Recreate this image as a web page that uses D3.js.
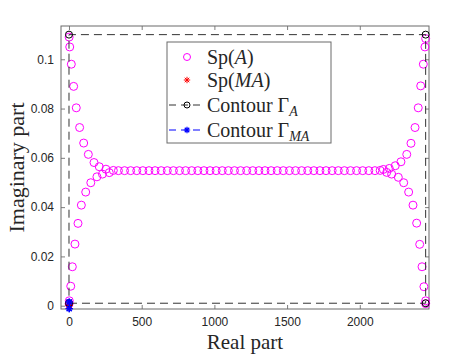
<!DOCTYPE html>
<html>
<head>
<meta charset="utf-8">
<script src="https://cdn.jsdelivr.net/npm/d3@7"></script>
<style>
  body { margin: 0; background: #fff; }
  svg { display: block; }
  .tick text { font-family: "Liberation Sans", Arial, sans-serif; font-size: 12px; fill: #262626; }
  .lbl { font-family: "Liberation Serif", "Times New Roman", serif; fill: #262626; }
</style>
</head>
<body>
<svg id="chart" width="474" height="355"></svg>
<script>
// Spectrum of A (real, imaginary)
const spReal = [
  1, 5, 16, 32, 50, 73, 101, 133, 172, 208, 254, 305,
  1, 2, 12, 23, 41, 62, 85, 115, 150, 192, 230, 277,
  340, 382, 424, 466, 508, 550, 592, 634, 676, 718, 760, 802, 844, 886, 928,
  970, 1012, 1054, 1096, 1138, 1180, 1222, 1264, 1306, 1348, 1390, 1432, 1474,
  1516, 1558, 1600, 1642, 1684, 1726, 1768, 1810, 1852, 1894, 1936, 1978, 2020,
  2062, 2104, 2140,
  2162, 2203, 2244, 2283, 2323, 2352, 2380, 2402, 2419, 2437, 2448, 2453,
  2185, 2219, 2265, 2302, 2336, 2366, 2391, 2412, 2428, 2441, 2453, 2453
];
const spImag = [
  0.1090, 0.1050, 0.0980, 0.0890, 0.0803, 0.0723, 0.0660, 0.0614, 0.0581, 0.0564, 0.0554, 0.0549,
  0.0008, 0.0020, 0.0079, 0.0158, 0.0250, 0.0334, 0.0408, 0.0461, 0.0499, 0.0523, 0.0534, 0.0540,
  0.0548, 0.0548, 0.0548, 0.0548, 0.0548, 0.0548, 0.0548, 0.0548, 0.0548, 0.0548, 0.0548, 0.0548, 0.0548, 0.0548, 0.0548,
  0.0548, 0.0548, 0.0548, 0.0548, 0.0548, 0.0548, 0.0548, 0.0548, 0.0548, 0.0548, 0.0548, 0.0548, 0.0548,
  0.0548, 0.0548, 0.0548, 0.0548, 0.0548, 0.0548, 0.0548, 0.0548, 0.0548, 0.0548, 0.0548, 0.0548, 0.0548,
  0.0548, 0.0548, 0.0549,
  0.0553, 0.0557, 0.0568, 0.0584, 0.0614, 0.0659, 0.0723, 0.0803, 0.0892, 0.0980, 0.1050, 0.1084,
  0.0541, 0.0534, 0.0521, 0.0499, 0.0461, 0.0408, 0.0335, 0.0249, 0.0158, 0.0077, 0.0020, 0.0008
];

// Spectrum of MA (hidden under the small contour)
const spmaReal = [1, 1.5, 2];
const spmaImag = [0.0002, 0.0004, 0.0001];

// Contour Gamma_A corners
const gaReal = [0, 2453, 2453, 0, 0];
const gaImag = [0.001, 0.001, 0.11, 0.11, 0.001];

// Contour Gamma_MA corners
const gmaReal = [0, 3, 3, 0, 0];
const gmaImag = [-0.0012, -0.0012, 0.0015, 0.0015, -0.0012];

const xTicks = [0, 500, 1000, 1500, 2000];
const yTicks = [0, 0.02, 0.04, 0.06, 0.08, 0.1];

const svg = d3.select("#chart");
const box = { left: 61, right: 429, top: 26, bottom: 309 };

const x = d3.scaleLinear().domain([-55, 2476]).range([box.left, box.right]);
const y = d3.scaleLinear().domain([-0.00134, 0.1135]).range([box.bottom, box.top]);

const axisColor = "#262626";
const tickLen = 4;

// Axes with inward ticks
const gx = svg.append("g")
  .attr("transform", `translate(0,${box.bottom})`)
  .call(d3.axisBottom(x).tickValues(xTicks).tickSize(-tickLen).tickPadding(8).tickFormat(d3.format("d")));
const gy = svg.append("g")
  .attr("transform", `translate(${box.left},0)`)
  .call(d3.axisLeft(y).tickValues(yTicks).tickSize(-tickLen).tickPadding(7).tickFormat(d => d === 0 ? "0" : d3.format("")(+d.toFixed(2))));
const gxTop = svg.append("g")
  .attr("transform", `translate(0,${box.top})`)
  .call(d3.axisTop(x).tickValues(xTicks).tickSize(-tickLen).tickFormat(""));
const gyRight = svg.append("g")
  .attr("transform", `translate(${box.right},0)`)
  .call(d3.axisRight(y).tickValues(yTicks).tickSize(-tickLen).tickFormat(""));

[gx, gy, gxTop, gyRight].forEach(g => {
  g.select(".domain").remove();
  g.selectAll(".tick line").attr("stroke", axisColor).attr("stroke-width", 0.6);
});

svg.append("rect")
  .attr("x", box.left).attr("y", box.top)
  .attr("width", box.right - box.left).attr("height", box.bottom - box.top)
  .attr("fill", "none").attr("stroke", "#6a6a6a").attr("stroke-width", 1);

// Axis labels
svg.append("text")
  .attr("class", "lbl")
  .attr("x", (box.left + box.right) / 2)
  .attr("y", 349)
  .attr("text-anchor", "middle")
  .attr("font-size", 21)
  .text("Real part");

svg.append("text")
  .attr("class", "lbl")
  .attr("transform", `translate(24,${(box.top + box.bottom) / 2}) rotate(-90)`)
  .attr("text-anchor", "middle")
  .attr("font-size", 22)
  .text("Imaginary part");

const plot = svg.append("g");

// Asterisk marker path
function star(r) {
  const d = r * Math.SQRT1_2;
  return `M${-r},0L${r},0M0,${-r}L0,${r}M${-d},${-d}L${d},${d}M${-d},${d}L${d},${-d}`;
}

// Sp(A)
const spData = spReal.map((v, i) => ({ re: v, im: spImag[i] }));
plot.selectAll("circle.spa")
  .data(spData)
  .join("circle")
  .attr("class", "spa")
  .attr("cx", d => x(d.re))
  .attr("cy", d => y(d.im))
  .attr("r", 4)
  .attr("fill", "none")
  .attr("stroke", "#ff00ff")
  .attr("stroke-width", 1);

// Sp(MA)
const spmaData = spmaReal.map((v, i) => ({ re: v, im: spmaImag[i] }));
plot.selectAll("path.spma")
  .data(spmaData)
  .join("path")
  .attr("class", "spma")
  .attr("transform", d => `translate(${x(d.re)},${y(d.im)})`)
  .attr("d", star(3.5))
  .attr("stroke", "#ff0000")
  .attr("stroke-width", 1);

// Contour Gamma_A
const line = d3.line().x(d => x(d.re)).y(d => y(d.im));
const gaData = gaReal.map((v, i) => ({ re: v, im: gaImag[i] }));
plot.append("path")
  .datum(gaData)
  .attr("d", line)
  .attr("fill", "none")
  .attr("stroke", "#333")
  .attr("stroke-width", 1)
  .attr("stroke-dasharray", "8,5");
plot.selectAll("circle.ga")
  .data(gaData.slice(0, 4))
  .join("circle")
  .attr("class", "ga")
  .attr("cx", d => x(d.re))
  .attr("cy", d => y(d.im))
  .attr("r", 3.5)
  .attr("fill", "none")
  .attr("stroke", "#000")
  .attr("stroke-width", 1);

// Contour Gamma_MA
const gmaData = gmaReal.map((v, i) => ({ re: v, im: gmaImag[i] }));
plot.append("path")
  .datum(gmaData)
  .attr("d", line)
  .attr("fill", "none")
  .attr("stroke", "#0000ff")
  .attr("stroke-width", 1)
  .attr("stroke-dasharray", "8,5");
plot.selectAll("path.gma")
  .data(gmaData.slice(0, 4))
  .join("path")
  .attr("class", "gma")
  .attr("transform", d => `translate(${x(d.re)},${y(d.im)})`)
  .attr("d", star(3.5))
  .attr("stroke", "#0000ff")
  .attr("stroke-width", 1.2);

// Legend
const leg = svg.append("g");
leg.append("rect")
  .attr("x", 167).attr("y", 42).attr("width", 164).attr("height", 101)
  .attr("fill", "#fff").attr("stroke", "#6a6a6a").attr("stroke-width", 1);

const rows = [57, 80, 105, 130];
const mx = 187, tx = 207;

leg.append("circle").attr("cx", mx).attr("cy", rows[0]).attr("r", 3.5)
  .attr("fill", "none").attr("stroke", "#ff00ff").attr("stroke-width", 1);
leg.append("path").attr("transform", `translate(${mx},${rows[1]})`).attr("d", star(3.2))
  .attr("stroke", "#ff0000").attr("stroke-width", 1);
leg.append("line").attr("x1", 169).attr("x2", 205).attr("y1", rows[2]).attr("y2", rows[2])
  .attr("stroke", "#333").attr("stroke-dasharray", "7,5").attr("stroke-dashoffset", 0);
leg.append("circle").attr("cx", mx).attr("cy", rows[2]).attr("r", 3)
  .attr("fill", "none").attr("stroke", "#000").attr("stroke-width", 1);
leg.append("line").attr("x1", 169).attr("x2", 205).attr("y1", rows[3]).attr("y2", rows[3])
  .attr("stroke", "#0000ff").attr("stroke-dasharray", "7,5");
leg.append("path").attr("transform", `translate(${mx},${rows[3]})`).attr("d", star(3.2))
  .attr("stroke", "#0000ff").attr("stroke-width", 1.2);

function legText(yy, parts) {
  const t = leg.append("text").attr("class", "lbl").attr("x", tx).attr("y", yy + 7).attr("font-size", 20);
  parts.forEach(p => {
    const s = t.append("tspan").text(p.t);
    if (p.i) s.attr("font-style", "italic");
    if (p.sub) s.attr("font-size", 14).attr("dy", 4);
  });
}
legText(rows[0], [{ t: "Sp(" }, { t: "A", i: true }, { t: ")" }]);
legText(rows[1], [{ t: "Sp(" }, { t: "MA", i: true }, { t: ")" }]);
legText(rows[2], [{ t: "Contour Γ" }, { t: "A", i: true, sub: true }]);
legText(rows[3], [{ t: "Contour Γ" }, { t: "MA", i: true, sub: true }]);
</script>
</body>
</html>
